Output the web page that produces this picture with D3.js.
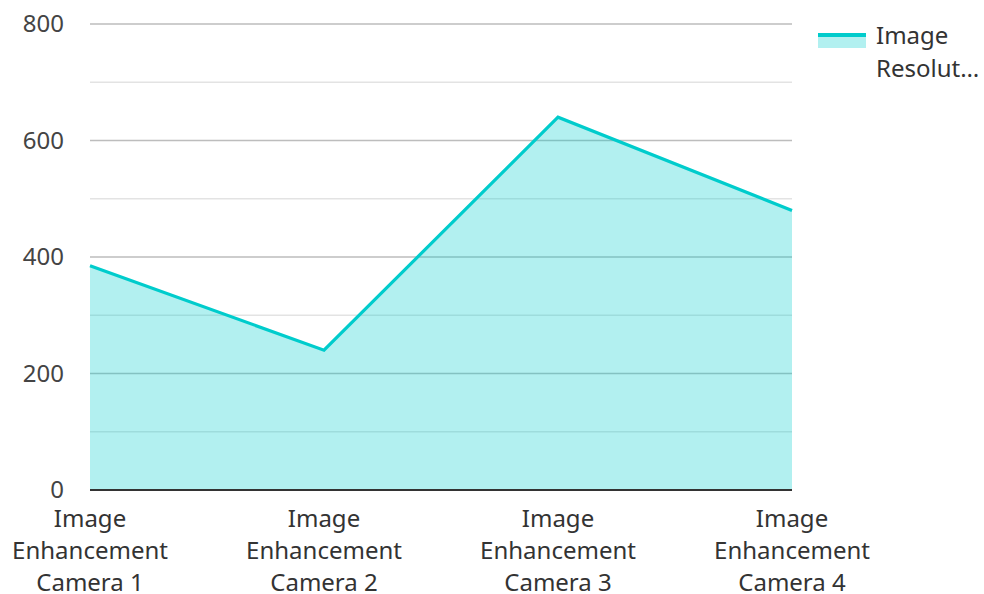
<!DOCTYPE html>
<html><head><meta charset="utf-8">
<script src="https://cdn.jsdelivr.net/npm/d3@7"></script>
<style>body{margin:0;background:#fff}svg{display:block;font-family:"Noto Sans",sans-serif}</style>
</head><body>
<svg id="c" width="984" height="594"></svg>
<script>
const categories = [["Image","Enhancement","Camera 1"],["Image","Enhancement","Camera 2"],["Image","Enhancement","Camera 3"],["Image","Enhancement","Camera 4"]];
const values = [385, 240, 640, 480];
const majorTicks = [0, 200, 400, 600, 800];
const minorTicks = [100, 300, 500, 700];
const legendLines = ["Image", "Resolut\u2026"];

const svg = d3.select("#c");
const m = {l:90, r:192, t:24, b:104};
const W = 984, H = 594;
const x = d3.scalePoint().domain(d3.range(categories.length)).range([m.l, W - m.r]);
const y = d3.scaleLinear().domain([0, 800]).range([H - m.b, m.t]);

// grid
svg.append("g").selectAll("line").data(minorTicks).join("line")
  .attr("x1", m.l).attr("x2", W - m.r).attr("y1", d => y(d)).attr("y2", d => y(d))
  .attr("stroke", "#e3e3e3").attr("stroke-width", 1.3);
svg.append("g").selectAll("line").data(majorTicks.filter(d => d > 0)).join("line")
  .attr("x1", m.l).attr("x2", W - m.r).attr("y1", d => y(d)).attr("y2", d => y(d))
  .attr("stroke", "#bdbdbd").attr("stroke-width", 1.3);

// area
const area = d3.area().x((d,i) => x(i)).y0(y(0)).y1(d => y(d));
svg.append("path").datum(values).attr("d", area).attr("fill", "#00cccc").attr("fill-opacity", 0.3);
const line = d3.line().x((d,i) => x(i)).y(d => y(d));
svg.append("path").datum(values).attr("d", line).attr("fill", "none")
  .attr("stroke", "#00cccc").attr("stroke-width", 3.2).attr("stroke-linejoin", "miter");

// baseline
svg.append("line").attr("x1", m.l).attr("x2", W - m.r).attr("y1", y(0)).attr("y2", y(0))
  .attr("stroke", "#333").attr("stroke-width", 2);

// y labels
svg.append("g").selectAll("text").data(majorTicks).join("text")
  .attr("x", 64).attr("y", d => y(d)).attr("dy", "0.35em").attr("text-anchor", "end")
  .attr("font-size", 24).attr("fill", "#444").text(d => d);

// x labels
const xl = svg.append("g").selectAll("text").data(categories).join("text")
  .attr("text-anchor", "middle").attr("font-size", 24).attr("fill", "#333");
xl.each(function(d, i) {
  d3.select(this).selectAll("tspan").data(d).join("tspan")
    .attr("x", x(i)).attr("y", (t, j) => 527 + j * 32).text(t => t);
});

// legend
const lg = svg.append("g");
lg.append("rect").attr("x", 818).attr("y", 35).attr("width", 48).attr("height", 13)
  .attr("fill", "#00cccc").attr("fill-opacity", 0.3);
lg.append("line").attr("x1", 818).attr("x2", 866).attr("y1", 35).attr("y2", 35)
  .attr("stroke", "#00cccc").attr("stroke-width", 4);
lg.selectAll("text").data(legendLines).join("text")
  .attr("x", 876).attr("y", (d, i) => 44 + i * 33).attr("font-size", 24).attr("fill", "#333").text(d => d);
</script>
</body></html>
